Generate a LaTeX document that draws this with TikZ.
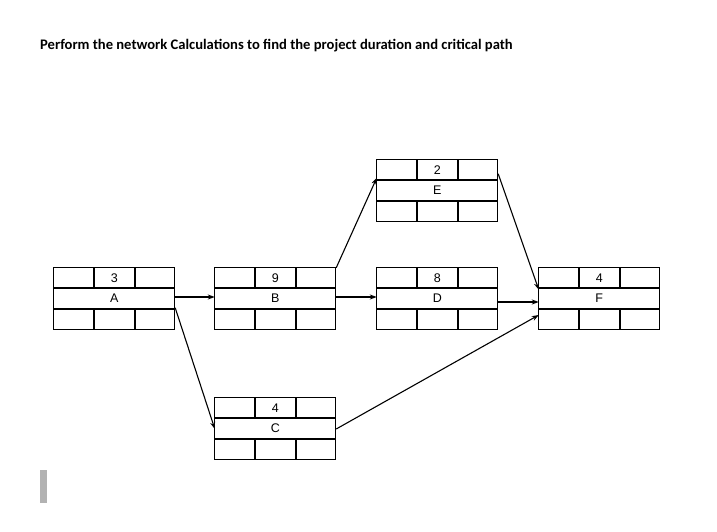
\documentclass[tikz,border=0pt]{standalone}
\usepackage{fontspec}
\setmainfont{Liberation Sans}
\newfontfamily\titlefont{Carlito}
\usetikzlibrary{calc,arrows.meta}
\tikzset{conn/.style={line width=1.1pt,-{Stealth[length=7pt,width=5pt]}},
 box/.style={draw=none,minimum width=121pt,minimum height=62pt,inner sep=0pt}}
\newcommand\actbox[5]{%
 \node[box] (#1) at (#2,#3) {};
 \begin{scope}[shift={(#1.north west)}]
 \draw[line width=1pt] (0,0) rectangle (121,62);
 \draw[line width=2.2pt] (0,20) -- (121,20) (0,41) -- (121,41);
 \draw[line width=2pt] (40,0) -- (40,20) (81,0) -- (81,20) (40,41) -- (40,62) (81,41) -- (81,62);
 \node[font=\fontsize{12.5}{14}\selectfont] at (60.5,10) {#4};
 \node[font=\fontsize{12.5}{14}\selectfont] at (60.5,30.5) {#5};
 \end{scope}}
\begin{document}
\begin{tikzpicture}[x=1pt,y=-1pt]
\useasboundingbox (0,0) rectangle (717,532);
\node[anchor=west,font=\titlefont\bfseries\fontsize{14.6}{16}\selectfont,inner sep=0] (title) at (40,46) {Perform the network Calculations to find the project duration and critical path};
\fill[gray!60] (40,470) rectangle (47,503);
\actbox{A}{114.5}{299}{3}{A}
\actbox{B}{275.5}{299}{9}{B}
\actbox{D}{437.5}{299}{8}{D}
\actbox{E}{437.5}{191}{2}{E}
\actbox{F}{599.5}{299}{4}{F}
\actbox{C}{275.5}{429}{4}{C}
\draw[conn] ($(A.east)+(0,-2)$) -- ($(B.west)+(0,-2)$);
\draw[conn] ($(A.north east)+(0,40)$) -- (C.west);
\draw[conn] (B.north east) -- ($(E.north west)+(0,18)$);
\draw[conn] ($(B.east)+(0,-2)$) -- ($(D.west)+(0,-2)$);
\draw[conn] ($(E.north east)+(0,14)$) -- ($(F.north west)+(0,22)$);
\draw[conn] ($(D.east)+(0,3)$) -- ($(F.west)+(0,3)$);
\draw[conn] (C.east) -- ($(F.west)+(0,16)$);
\end{tikzpicture}
\end{document}
